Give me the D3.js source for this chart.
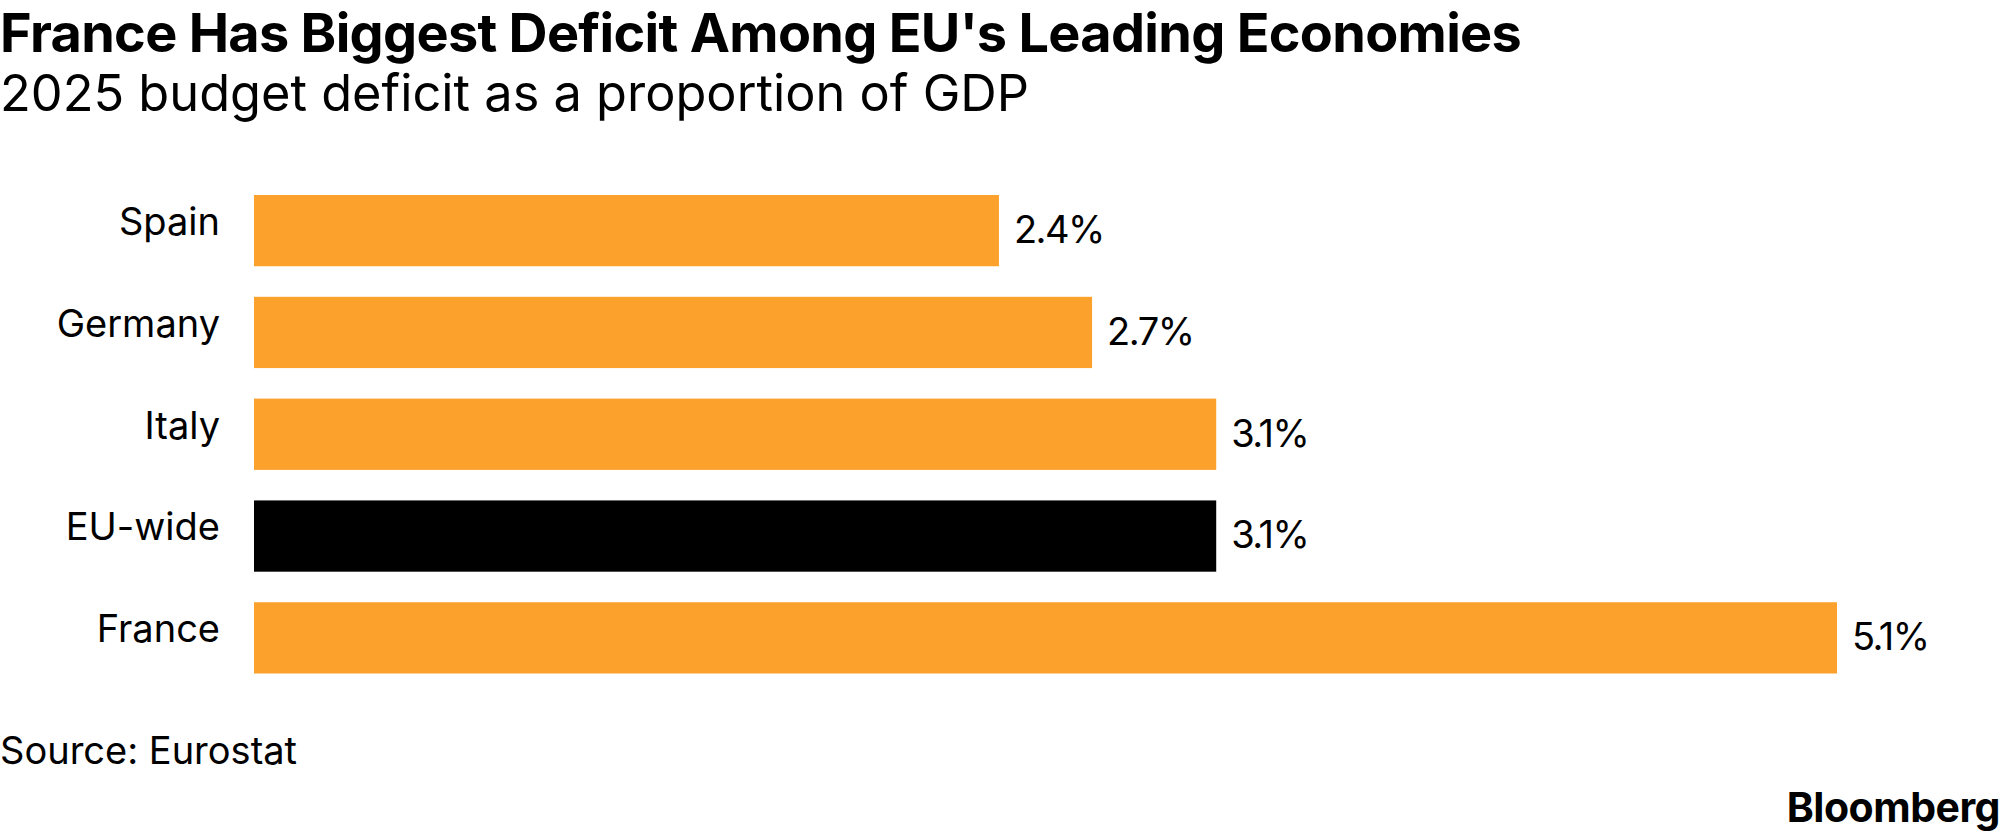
<!DOCTYPE html>
<html><head><meta charset="utf-8">
<script src="https://cdn.jsdelivr.net/npm/d3@7"></script>
<style>body{margin:0;background:#fff}</style>
</head><body>
<svg id="chart" width="2002" height="834"></svg>
<script>
const countries = ['Spain', 'Germany', 'Italy', 'EU-wide', 'France'];
const deficits = [2.4, 2.7, 3.1, 3.1, 5.1];
const highlight = ['EU-wide'];

const svg = d3.select('#chart');
const font = 'Inter, "Noto Sans", sans-serif';

svg.append('text').attr('x', 0).attr('y', 52)
  .attr('font-family', font).attr('font-size', 54).attr('font-weight', 700)
  .attr('letter-spacing', -0.7)
  .text("France Has Biggest Deficit Among EU's Leading Economies");
svg.append('text').attr('x', 0).attr('y', 111)
  .attr('font-family', font).attr('font-size', 50.5)
  .text('2025 budget deficit as a proportion of GDP');

const x = d3.scaleLinear().domain([0, 5.1]).range([254, 1837]);
const y = d3.scaleBand().domain(countries).range([195, 673.5]).paddingInner(0.3).paddingOuter(0);

const rows = svg.selectAll('.row').data(countries).enter().append('g').attr('class', 'row');

rows.append('rect')
  .attr('x', x(0))
  .attr('y', d => y(d))
  .attr('height', y.bandwidth())
  .attr('width', (d, i) => x(deficits[i]) - x(0))
  .attr('fill', d => (highlight.includes(d) ? '#000' : '#fba12c'));

rows.append('text')
  .attr('x', 220)
  .attr('y', d => y(d) + y.bandwidth() / 2 - 6)
  .attr('text-anchor', 'end')
  .attr('dominant-baseline', 'middle')
  .attr('font-family', font).attr('font-size', 38)
  .text(d => d);

rows.append('text')
  .attr('x', (d, i) => x(deficits[i]) + 15)
  .attr('y', d => y(d) + y.bandwidth() / 2 + 2)
  .attr('dominant-baseline', 'middle')
  .attr('font-family', font).attr('font-size', 38)
  .attr('letter-spacing', -1.5)
  .text((d, i) => d3.format('.1f')(deficits[i]) + '%');

svg.append('text').attr('x', 0).attr('y', 764)
  .attr('font-family', font).attr('font-size', 38)
  .text('Source: Eurostat');
svg.append('text').attr('x', 2000).attr('y', 822).attr('text-anchor', 'end')
  .attr('font-family', font).attr('font-size', 41).attr('font-weight', 700)
  .attr('letter-spacing', -0.5)
  .text('Bloomberg');
</script>
</body></html>
